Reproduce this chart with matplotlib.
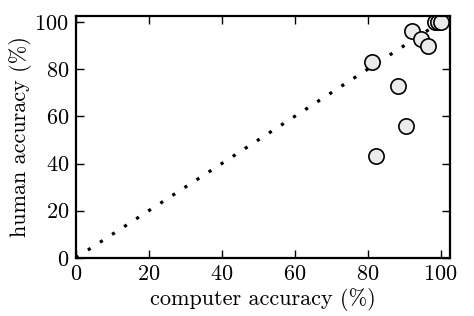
"""Scatter of human vs computer accuracy with the identity line."""

import matplotlib

matplotlib.use("Agg")
import matplotlib.pyplot as plt

plt.rcParams["font.family"] = "serif"
plt.rcParams["font.serif"] = ["cmr10"]
plt.rcParams["mathtext.fontset"] = "cm"
plt.rcParams["axes.formatter.use_mathtext"] = True

# values
computer_acc = [81.3, 82.4, 88.2, 90.6, 92.0, 94.5, 96.4, 98.5, 99.3, 100.0]
human_acc = [83.0, 43.0, 73.0, 56.0, 96.0, 93.0, 90.0, 100.0, 100.0, 100.0]
diag = [0, 100]
ticks = [0, 20, 40, 60, 80, 100]

fig = plt.figure(figsize=(4.74, 3.16), dpi=100)
ax = fig.add_axes([0.160, 0.184, 0.789, 0.765])

ax.plot(diag, diag, linestyle=(0, (1, 3.5)), color="black", linewidth=2.3, zorder=1)
ax.plot(
    computer_acc,
    human_acc,
    linestyle="none",
    marker="o",
    markersize=11,
    markerfacecolor="#ebebeb",
    markeredgecolor="black",
    markeredgewidth=1.2,
    zorder=2,
)

ax.set_xlim(0, 102.5)
ax.set_ylim(0, 102.5)
ax.set_xticks(ticks)
ax.set_yticks(ticks)
ax.tick_params(
    direction="in", length=6, width=1, top=True, right=True, labelsize=16, pad=5
)
for spine in ax.spines.values():
    spine.set_linewidth(1.6)

ax.set_xlabel("computer accuracy (%)", fontsize=16, labelpad=3)
ax.set_ylabel("human accuracy (%)", fontsize=16, labelpad=2)

fig.savefig("out.png", dpi=100)
